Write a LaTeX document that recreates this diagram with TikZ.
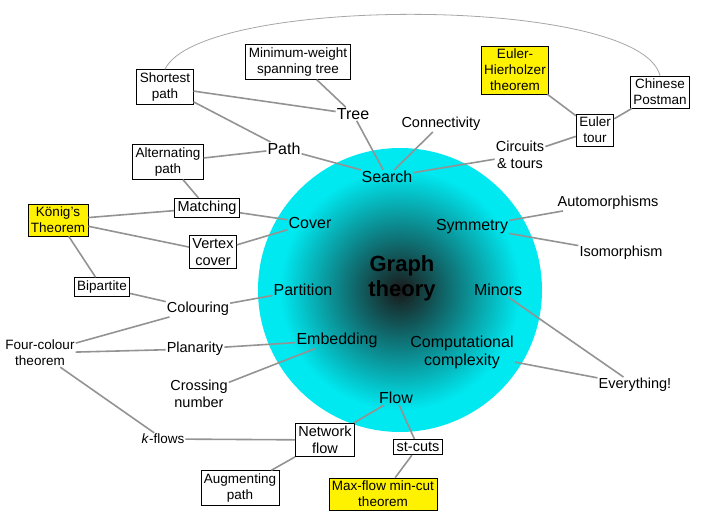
\documentclass[tikz,border=0pt]{standalone}
\usepackage{fontspec}
\setmainfont{Liberation Sans}
\definecolor{cy}{RGB}{0,232,240}
\begin{document}
\begin{tikzpicture}[x=1pt,y=-1pt,
  lab/.style={font=\fontsize{16}{18}\selectfont,align=center,inner sep=1pt},
  sm/.style={font=\fontsize{14.5}{17}\selectfont,align=center,inner sep=1pt},
  box/.style={draw=black,fill=white,font=\fontsize{13.5}{16}\selectfont,align=center,inner sep=3pt,line width=0.8pt},
  ybox/.style={box,fill=yellow},
  ln/.style={draw=gray!85,line width=1.6pt}]
\useasboundingbox (0,0) rectangle (720,526);
\fill[cy] (400,290) circle (142);
\shade[inner color=black!90,outer color=cy] (400,290) circle (120);
% nodes
\node[box] (sp) at (165,87) {Shortest\\path};
\node[box] (mst) at (298,62) {Minimum-weight\\spanning tree};
\node[ybox] (eh) at (515,70) {Euler-\\Hierholzer\\theorem};
\node[box] (cp) at (660,92) {Chinese\\Postman};
\node[lab] (tree) at (353,114) {Tree};
\node[sm] (conn) at (441,124) {Connectivity};
\node[box] (et) at (595,130) {Euler\\tour};
\node[sm] (ct) at (520,155) {Circuits\\\& tours};
\node[box] (ap) at (168,162) {Alternating\\path};
\node[lab] (path) at (284,149) {Path};
\node[lab] (search) at (387,177) {Search};
\node[ybox] (kt) at (58,220) {König's\\Theorem};
\node[box,font=\fontsize{14.5}{17}\selectfont] (match) at (207,208) {Matching};
\node[lab] (cover) at (310,223) {Cover};
\node[box,font=\fontsize{14.5}{17}\selectfont] (vc) at (213,252) {Vertex\\cover};
\node[lab] (sym) at (472,227) {Symmetry};
\node[sm] (aut) at (608,203) {Automorphisms};
\node[sm] (iso) at (621,253) {Isomorphism};
\node[box] (bip) at (102,287) {Bipartite};
\node[font=\bfseries\fontsize{22}{25}\selectfont,align=center] (gt) at (402,278) {Graph\\theory};
\node[lab] (part) at (303,290) {Partition};
\node[lab] (minors) at (498,290) {Minors};
\node[sm] (col) at (198,309) {Colouring};
\node[sm,font=\fontsize{13.5}{16}\selectfont] (fct) at (40,353) {Four-colour\\theorem};
\node[sm] (plan) at (195,349) {Planarity};
\node[lab] (emb) at (337,340) {Embedding};
\node[lab] (cc) at (462,352) {Computational\\complexity};
\node[sm] (cn) at (199,394) {Crossing\\number};
\node[sm] (ev) at (635,385) {Everything!};
\node[lab] (flow) at (396,398) {Flow};
\node[sm,font=\fontsize{13.5}{16}\selectfont] (kf) at (163,439) {\textit{k}-flows};
\node[box,font=\fontsize{14.5}{17}\selectfont] (nf) at (325,440) {Network\\flow};
\node[box,font=\fontsize{14.5}{17}\selectfont] (st) at (418,447) {st-cuts};
\node[box] (aug) at (240,488) {Augmenting\\path};
\node[ybox] (mf) at (383,494) {Max-flow min-cut\\theorem};
% edges
\draw[gray!70,line width=0.8pt] (sp.north) .. controls (200,-5) and (640,-5) .. (cp.north);
\path[ln] (sp) -- (tree) (mst) -- (tree) (tree) -- (search) (sp) -- (path)
 (ap) -- (path) (path) -- (search) (conn) -- (search) (search) -- (ct)
 (ct) -- (et) (et) -- (eh) (et) -- (cp) (ap) -- (match) (kt) -- (match)
 (kt) -- (vc) (match) -- (cover) (vc) -- (cover) (sym) -- (aut) (sym) -- (iso)
 (kt) -- (bip) (bip) -- (col) (col) -- (part) (col) -- (fct) (fct) -- (plan)
 (plan) -- (emb) (emb) -- (cn) (fct) -- (kf) (kf) -- (nf) (nf) -- (flow)
 (flow) -- (st) (nf) -- (aug) (st) -- (mf) (minors) -- (ev) (cc) -- (ev);
\end{tikzpicture}
\end{document}
